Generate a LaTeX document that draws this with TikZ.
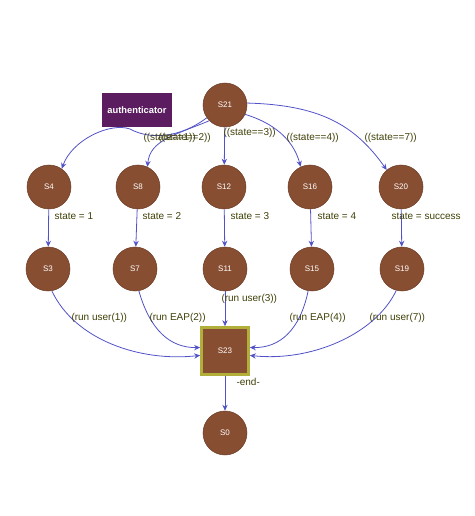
\documentclass[tikz,border=0pt]{standalone}
\usepackage{fontspec}
\setmainfont{Liberation Sans}
\usetikzlibrary{arrows.meta}

\definecolor{stbrown}{RGB}{136,78,50}
\definecolor{stedge}{RGB}{82,82,200}
\definecolor{stlabel}{RGB}{64,64,8}
\definecolor{endframe}{RGB}{178,174,58}
\definecolor{authpurple}{RGB}{92,28,96}

\tikzset{every picture/.style={line width=0.75pt}}
\tikzset{
  stnode/.style={circle,fill=stbrown,draw=stbrown!80!black,line width=0.4pt,
    minimum size=33pt,inner sep=0pt,text=white,font=\fontsize{6}{7}\selectfont},
  endnode/.style={rectangle,fill=stbrown,draw=endframe,line width=2.25pt,
    minimum size=35pt,inner sep=0pt,text=white,font=\fontsize{6}{7}\selectfont},
  authnode/.style={rectangle,fill=authpurple,minimum width=52.5pt,minimum height=25.5pt,
    inner sep=0pt,text=white,font=\fontsize{7}{8}\selectfont\bfseries},
  edge/.style={draw=stedge,line width=0.6pt,-{Stealth[length=4.5pt,width=4pt]}},
  elabel/.style={anchor=west,inner sep=0.75pt,text=stlabel,font=\fontsize{7.5}{8}\selectfont}
}

\begin{document}
\begin{tikzpicture}[x=0.75pt,y=0.75pt,yscale=-1,xscale=1]
\useasboundingbox (0,0) rectangle (474,516);

%Shape: Rectangle
\node[authnode] (auth) at (137,110) {authenticator};

%Shape: Circles
\node[stnode] (s21) at (225,105) {S21};
\node[stnode] (s4)  at (49,187)  {S4};
\node[stnode] (s8)  at (138,187) {S8};
\node[stnode] (s12) at (224,187) {S12};
\node[stnode] (s16) at (310,187) {S16};
\node[stnode] (s20) at (401,187) {S20};
\node[stnode] (s3)  at (48,269)  {S3};
\node[stnode] (s7)  at (135,269) {S7};
\node[stnode] (s11) at (225,269) {S11};
\node[stnode] (s15) at (312,269) {S15};
\node[stnode] (s19) at (402,269) {S19};
\node[endnode] (s23) at (225,351) {S23};
\node[stnode] (s0)  at (225,433) {S0};

%Curves from S21
\draw[edge] (s21.215) .. controls (180,138) and (150,140) .. (130,129) .. controls (110,122) and (72,140) .. (s4.55);
\draw[edge] (s21.225) .. controls (175,135) and (150,140) .. (s8.65);
\draw[edge] (s21) -- (s12);
\draw[edge] (s21.-25) .. controls (280,125) and (295,145) .. (s16.115);
\draw[edge] (s21.5) .. controls (320,105) and (355,125) .. (s20.130);

%Straight Lines
\draw[edge] (s4) -- (s3);
\draw[edge] (s8) -- (s7);
\draw[edge] (s12) -- (s11);
\draw[edge] (s16) -- (s15);
\draw[edge] (s20) -- (s19);

%Curves into S23
\draw[edge] (s3.-80) .. controls (75,340) and (140,362) .. (s23.190);
\draw[edge] (s7.-80) .. controls (150,330) and (170,348) .. (s23.172);
\draw[edge] (s11) -- (s23);
\draw[edge] (s15.-100) .. controls (300,330) and (280,348) .. (s23.8);
\draw[edge] (s19.-105) .. controls (375,335) and (310,362) .. (s23.-10);
\draw[edge] (s23) -- (s0);

% Text Node
\node[elabel] (l1) at (142,138) {((state==1))};
% Text Node
\node[elabel] (l2) at (157,138) {((state==2))};
% Text Node
\node[elabel] (l3) at (222,133) {((state==3))};
% Text Node
\node[elabel] (l4) at (285,138) {((state==4))};
% Text Node
\node[elabel] (l7) at (363,138) {((state==7))};
% Text Node
\node[elabel] (c1) at (53,216)  {state = 1};
% Text Node
\node[elabel] (c2) at (141,216) {state = 2};
% Text Node
\node[elabel] (c3) at (229,216) {state = 3};
% Text Node
\node[elabel] (c4) at (316,216) {state = 4};
% Text Node
\node[elabel] (c5) at (390,216) {state = success};
% Text Node
\node[elabel] (r1) at (70,318)  {(run user(1))};
% Text Node
\node[elabel] (r2) at (148,318) {(run EAP(2))};
% Text Node
\node[elabel] (r3) at (220,299) {(run user(3))};
% Text Node
\node[elabel] (r4) at (288,318) {(run EAP(4))};
% Text Node
\node[elabel] (r7) at (368,318) {(run user(7))};
% Text Node
\node[elabel] (rend) at (235,382) {-end-};
\end{tikzpicture}
\end{document}
